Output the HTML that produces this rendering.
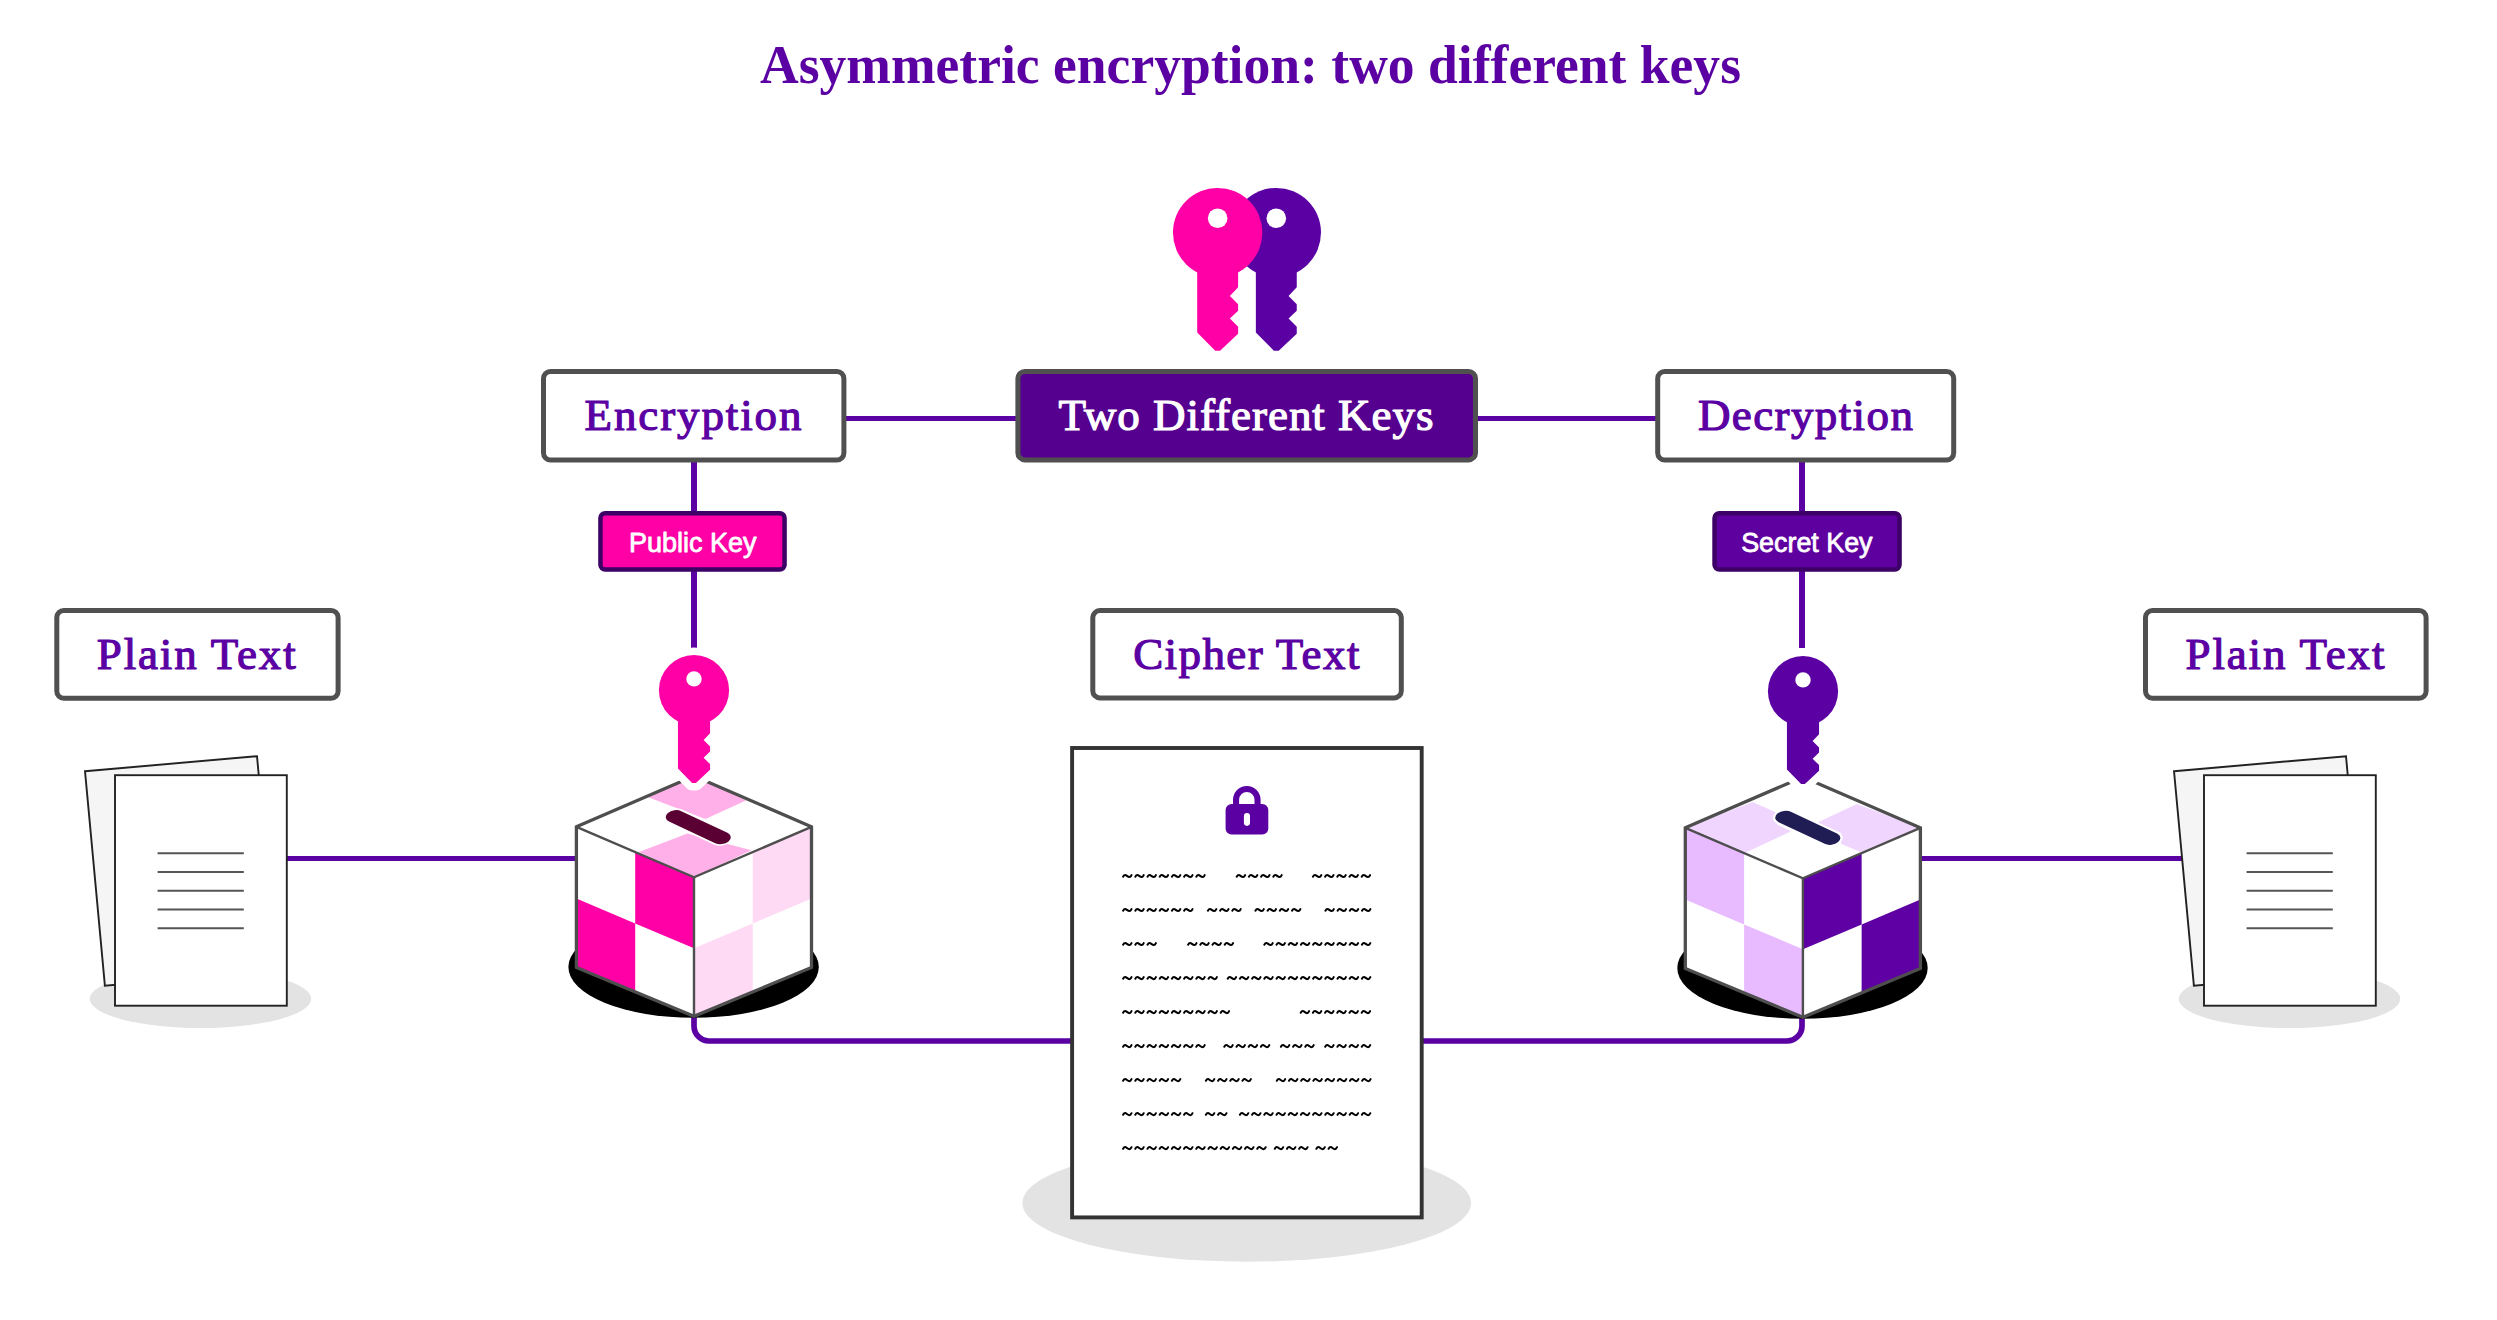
<!DOCTYPE html>
<html><head><meta charset="utf-8"><title>Asymmetric encryption</title>
<style>html,body{margin:0;padding:0;background:#fff;width:2497px;height:1320px;overflow:hidden}svg{display:block}</style>
</head><body>
<svg width="2497" height="1320" viewBox="0 0 2497 1320"><text x="760.0" y="83.3" font-family="Liberation Serif" font-size="55" font-weight="bold" fill="#5b00a3" textLength="981" lengthAdjust="spacingAndGlyphs">Asymmetric encryption: two different keys</text>
<g transform="translate(1276.3 232.6) scale(44.7)"><g fill="#5b00a3"><circle cx="0" cy="0" r="1"/><path d="M-0.4575 0.5 L0.4575 0.5 L0.4575 1.224 L0.274 1.418 L0.4575 1.601 L0.4575 1.747 L0.274 1.921 L0.4575 2.105 L0.4575 2.263 L0.054 2.642 L-0.054 2.642 L-0.4575 2.233 Z"/></g><circle cx="0" cy="-0.322" r="0.219" fill="#fff"/></g>
<g transform="translate(1217.65 232.6) scale(44.7)"><g fill="#ff00a6"><circle cx="0" cy="0" r="1"/><path d="M-0.4575 0.5 L0.4575 0.5 L0.4575 1.224 L0.274 1.418 L0.4575 1.601 L0.4575 1.747 L0.274 1.921 L0.4575 2.105 L0.4575 2.263 L0.054 2.642 L-0.054 2.642 L-0.4575 2.233 Z"/></g><circle cx="0" cy="-0.322" r="0.219" fill="#fff"/></g>
<line x1="846" y1="418.5" x2="1016" y2="418.5" stroke="#5b00a3" stroke-width="5.2"/>
<line x1="1477" y1="418.5" x2="1656" y2="418.5" stroke="#5b00a3" stroke-width="5.2"/>
<line x1="694" y1="461" x2="694" y2="512" stroke="#5b00a3" stroke-width="6"/>
<line x1="694" y1="571" x2="694" y2="648" stroke="#5b00a3" stroke-width="6"/>
<line x1="1802" y1="461" x2="1802" y2="512" stroke="#5b00a3" stroke-width="6"/>
<line x1="1802" y1="571" x2="1802" y2="648" stroke="#5b00a3" stroke-width="6"/>
<line x1="286" y1="858.5" x2="577" y2="858.5" stroke="#5b00a3" stroke-width="5.2"/>
<line x1="1920" y1="858.5" x2="2182" y2="858.5" stroke="#5b00a3" stroke-width="5.2"/>
<path d="M694 1015 L694 1026 A15 15 0 0 0 709 1041 L1072 1041" fill="none" stroke="#5b00a3" stroke-width="5.7"/>
<path d="M1802 1015 L1802 1026 A15 15 0 0 1 1787 1041 L1422 1041" fill="none" stroke="#5b00a3" stroke-width="5.7"/>
<rect x="543.5" y="371.5" width="300.4" height="88.5" rx="7.0" fill="#fff" stroke="#505050" stroke-width="5"/>
<text x="584.6" y="430.3" font-family="Liberation Serif" font-size="45" font-weight="normal" fill="#5b00a3" stroke="#5b00a3" stroke-width="1.2" stroke-linejoin="round" textLength="216.8" lengthAdjust="spacing">Encryption</text>
<rect x="1017.9" y="371.5" width="457.6" height="88.39999999999998" rx="7.0" fill="#560090" stroke="#505050" stroke-width="5"/>
<text x="1058.6" y="430.3" font-family="Liberation Serif" font-size="45" font-weight="normal" fill="#fff" stroke="#fff" stroke-width="1.2" stroke-linejoin="round" textLength="374.8" lengthAdjust="spacing">Two Different Keys</text>
<rect x="1657.7" y="371.5" width="296.0" height="88.5" rx="7.0" fill="#fff" stroke="#505050" stroke-width="5"/>
<text x="1697.8999999999999" y="430.3" font-family="Liberation Serif" font-size="45" font-weight="normal" fill="#5b00a3" stroke="#5b00a3" stroke-width="1.2" stroke-linejoin="round" textLength="215.00000000000006" lengthAdjust="spacing">Decryption</text>
<rect x="56.8" y="610.5" width="281.3" height="87.79999999999995" rx="7.0" fill="#fff" stroke="#505050" stroke-width="5"/>
<text x="96.8" y="669" font-family="Liberation Serif" font-size="45" font-weight="normal" fill="#5b00a3" stroke="#5b00a3" stroke-width="1.2" stroke-linejoin="round" textLength="198.90000000000003" lengthAdjust="spacing">Plain Text</text>
<rect x="1092.8" y="610.6" width="308.5" height="87.29999999999995" rx="7.0" fill="#fff" stroke="#505050" stroke-width="5"/>
<text x="1133.1999999999998" y="668.7" font-family="Liberation Serif" font-size="45" font-weight="normal" fill="#5b00a3" stroke="#5b00a3" stroke-width="1.2" stroke-linejoin="round" textLength="226.2000000000001" lengthAdjust="spacing">Cipher Text</text>
<rect x="2145.5" y="610.5" width="280.5999999999999" height="87.79999999999995" rx="7.0" fill="#fff" stroke="#505050" stroke-width="5"/>
<text x="2185.6" y="669" font-family="Liberation Serif" font-size="45" font-weight="normal" fill="#5b00a3" stroke="#5b00a3" stroke-width="1.2" stroke-linejoin="round" textLength="198.8" lengthAdjust="spacing">Plain Text</text>
<rect x="600.45" y="513.25" width="184.0999999999999" height="56.299999999999955" rx="4.75" fill="#ff00a6" stroke="#3c0066" stroke-width="4.5"/>
<text x="628.9" y="551.7" font-family="Liberation Sans" font-size="28" font-weight="normal" fill="#fff" stroke="#fff" stroke-width="0.8" stroke-linejoin="round" textLength="127.7" lengthAdjust="spacingAndGlyphs">Public Key</text>
<rect x="1714.55" y="513.25" width="185.0" height="56.299999999999955" rx="4.75" fill="#5e00a0" stroke="#3c0066" stroke-width="4.5"/>
<text x="1741.2" y="551.7" font-family="Liberation Sans" font-size="28" font-weight="normal" fill="#fff" stroke="#fff" stroke-width="0.8" stroke-linejoin="round" textLength="131.30000000000013" lengthAdjust="spacingAndGlyphs">Secret Key</text>
<g transform="translate(0 0)"><ellipse cx="200.5" cy="998.8" rx="110.7" ry="29.2" fill="#e3e3e3"/><polygon points="85,771.2 257,756.2 276.8,971 104.9,985.6" fill="#f5f5f5" stroke="#222" stroke-width="1.9"/><rect x="115" y="775.2" width="171.8" height="230.5" fill="#fff" stroke="#222" stroke-width="1.9"/><line x1="157.6" y1="853.2" x2="243.8" y2="853.2" stroke="#555" stroke-width="1.9"/><line x1="157.6" y1="871.95" x2="243.8" y2="871.95" stroke="#555" stroke-width="1.9"/><line x1="157.6" y1="890.7" x2="243.8" y2="890.7" stroke="#555" stroke-width="1.9"/><line x1="157.6" y1="909.45" x2="243.8" y2="909.45" stroke="#555" stroke-width="1.9"/><line x1="157.6" y1="928.2" x2="243.8" y2="928.2" stroke="#555" stroke-width="1.9"/></g>
<g transform="translate(2089 0)"><ellipse cx="200.5" cy="998.8" rx="110.7" ry="29.2" fill="#e3e3e3"/><polygon points="85,771.2 257,756.2 276.8,971 104.9,985.6" fill="#f5f5f5" stroke="#222" stroke-width="1.9"/><rect x="115" y="775.2" width="171.8" height="230.5" fill="#fff" stroke="#222" stroke-width="1.9"/><line x1="157.6" y1="853.2" x2="243.8" y2="853.2" stroke="#555" stroke-width="1.9"/><line x1="157.6" y1="871.95" x2="243.8" y2="871.95" stroke="#555" stroke-width="1.9"/><line x1="157.6" y1="890.7" x2="243.8" y2="890.7" stroke="#555" stroke-width="1.9"/><line x1="157.6" y1="909.45" x2="243.8" y2="909.45" stroke="#555" stroke-width="1.9"/><line x1="157.6" y1="928.2" x2="243.8" y2="928.2" stroke="#555" stroke-width="1.9"/></g>
<ellipse cx="1246.7" cy="1203" rx="224.3" ry="58.7" fill="#e3e3e3"/>
<rect x="1072.1" y="748" width="349.6" height="469.4" fill="#fff" stroke="#333" stroke-width="3.9"/>
<path d="M1236.05 805 V799.7 A10.75 10.75 0 0 1 1257.55 799.7 V805" fill="none" stroke="#5b00a3" stroke-width="6.1"/>
<rect x="1225.6" y="803.9" width="42.7" height="30.7" rx="6" fill="#5b00a3"/>
<rect x="1243.9" y="812.9" width="6.1" height="13" rx="3.05" fill="#fff"/>
<path d="M1123.10 876.70 c0.7 -1.4 1.4 -1.8 2.1 -1.8 c1.2 0 2.5 2.2 4.2 2.2 c0.9 0 1.5 -0.6 2.1 -2 M1135.30 876.70 c0.7 -1.4 1.4 -1.8 2.1 -1.8 c1.2 0 2.5 2.2 4.2 2.2 c0.9 0 1.5 -0.6 2.1 -2 M1147.50 876.70 c0.7 -1.4 1.4 -1.8 2.1 -1.8 c1.2 0 2.5 2.2 4.2 2.2 c0.9 0 1.5 -0.6 2.1 -2 M1159.70 876.70 c0.7 -1.4 1.4 -1.8 2.1 -1.8 c1.2 0 2.5 2.2 4.2 2.2 c0.9 0 1.5 -0.6 2.1 -2 M1171.90 876.70 c0.7 -1.4 1.4 -1.8 2.1 -1.8 c1.2 0 2.5 2.2 4.2 2.2 c0.9 0 1.5 -0.6 2.1 -2 M1184.10 876.70 c0.7 -1.4 1.4 -1.8 2.1 -1.8 c1.2 0 2.5 2.2 4.2 2.2 c0.9 0 1.5 -0.6 2.1 -2 M1196.30 876.70 c0.7 -1.4 1.4 -1.8 2.1 -1.8 c1.2 0 2.5 2.2 4.2 2.2 c0.9 0 1.5 -0.6 2.1 -2 M1236.70 876.70 c0.7 -1.4 1.4 -1.8 2.1 -1.8 c1.2 0 2.5 2.2 4.2 2.2 c0.9 0 1.5 -0.6 2.1 -2 M1248.90 876.70 c0.7 -1.4 1.4 -1.8 2.1 -1.8 c1.2 0 2.5 2.2 4.2 2.2 c0.9 0 1.5 -0.6 2.1 -2 M1261.10 876.70 c0.7 -1.4 1.4 -1.8 2.1 -1.8 c1.2 0 2.5 2.2 4.2 2.2 c0.9 0 1.5 -0.6 2.1 -2 M1273.30 876.70 c0.7 -1.4 1.4 -1.8 2.1 -1.8 c1.2 0 2.5 2.2 4.2 2.2 c0.9 0 1.5 -0.6 2.1 -2 M1312.90 876.70 c0.7 -1.4 1.4 -1.8 2.1 -1.8 c1.2 0 2.5 2.2 4.2 2.2 c0.9 0 1.5 -0.6 2.1 -2 M1325.10 876.70 c0.7 -1.4 1.4 -1.8 2.1 -1.8 c1.2 0 2.5 2.2 4.2 2.2 c0.9 0 1.5 -0.6 2.1 -2 M1337.30 876.70 c0.7 -1.4 1.4 -1.8 2.1 -1.8 c1.2 0 2.5 2.2 4.2 2.2 c0.9 0 1.5 -0.6 2.1 -2 M1349.50 876.70 c0.7 -1.4 1.4 -1.8 2.1 -1.8 c1.2 0 2.5 2.2 4.2 2.2 c0.9 0 1.5 -0.6 2.1 -2 M1361.70 876.70 c0.7 -1.4 1.4 -1.8 2.1 -1.8 c1.2 0 2.5 2.2 4.2 2.2 c0.9 0 1.5 -0.6 2.1 -2 M1123.10 910.71 c0.7 -1.4 1.4 -1.8 2.1 -1.8 c1.2 0 2.5 2.2 4.2 2.2 c0.9 0 1.5 -0.6 2.1 -2 M1135.30 910.71 c0.7 -1.4 1.4 -1.8 2.1 -1.8 c1.2 0 2.5 2.2 4.2 2.2 c0.9 0 1.5 -0.6 2.1 -2 M1147.50 910.71 c0.7 -1.4 1.4 -1.8 2.1 -1.8 c1.2 0 2.5 2.2 4.2 2.2 c0.9 0 1.5 -0.6 2.1 -2 M1159.70 910.71 c0.7 -1.4 1.4 -1.8 2.1 -1.8 c1.2 0 2.5 2.2 4.2 2.2 c0.9 0 1.5 -0.6 2.1 -2 M1171.90 910.71 c0.7 -1.4 1.4 -1.8 2.1 -1.8 c1.2 0 2.5 2.2 4.2 2.2 c0.9 0 1.5 -0.6 2.1 -2 M1184.10 910.71 c0.7 -1.4 1.4 -1.8 2.1 -1.8 c1.2 0 2.5 2.2 4.2 2.2 c0.9 0 1.5 -0.6 2.1 -2 M1207.90 910.71 c0.7 -1.4 1.4 -1.8 2.1 -1.8 c1.2 0 2.5 2.2 4.2 2.2 c0.9 0 1.5 -0.6 2.1 -2 M1220.10 910.71 c0.7 -1.4 1.4 -1.8 2.1 -1.8 c1.2 0 2.5 2.2 4.2 2.2 c0.9 0 1.5 -0.6 2.1 -2 M1232.30 910.71 c0.7 -1.4 1.4 -1.8 2.1 -1.8 c1.2 0 2.5 2.2 4.2 2.2 c0.9 0 1.5 -0.6 2.1 -2 M1255.40 910.71 c0.7 -1.4 1.4 -1.8 2.1 -1.8 c1.2 0 2.5 2.2 4.2 2.2 c0.9 0 1.5 -0.6 2.1 -2 M1267.60 910.71 c0.7 -1.4 1.4 -1.8 2.1 -1.8 c1.2 0 2.5 2.2 4.2 2.2 c0.9 0 1.5 -0.6 2.1 -2 M1279.80 910.71 c0.7 -1.4 1.4 -1.8 2.1 -1.8 c1.2 0 2.5 2.2 4.2 2.2 c0.9 0 1.5 -0.6 2.1 -2 M1292.00 910.71 c0.7 -1.4 1.4 -1.8 2.1 -1.8 c1.2 0 2.5 2.2 4.2 2.2 c0.9 0 1.5 -0.6 2.1 -2 M1325.40 910.71 c0.7 -1.4 1.4 -1.8 2.1 -1.8 c1.2 0 2.5 2.2 4.2 2.2 c0.9 0 1.5 -0.6 2.1 -2 M1337.60 910.71 c0.7 -1.4 1.4 -1.8 2.1 -1.8 c1.2 0 2.5 2.2 4.2 2.2 c0.9 0 1.5 -0.6 2.1 -2 M1349.80 910.71 c0.7 -1.4 1.4 -1.8 2.1 -1.8 c1.2 0 2.5 2.2 4.2 2.2 c0.9 0 1.5 -0.6 2.1 -2 M1362.00 910.71 c0.7 -1.4 1.4 -1.8 2.1 -1.8 c1.2 0 2.5 2.2 4.2 2.2 c0.9 0 1.5 -0.6 2.1 -2 M1123.10 944.72 c0.7 -1.4 1.4 -1.8 2.1 -1.8 c1.2 0 2.5 2.2 4.2 2.2 c0.9 0 1.5 -0.6 2.1 -2 M1135.30 944.72 c0.7 -1.4 1.4 -1.8 2.1 -1.8 c1.2 0 2.5 2.2 4.2 2.2 c0.9 0 1.5 -0.6 2.1 -2 M1147.50 944.72 c0.7 -1.4 1.4 -1.8 2.1 -1.8 c1.2 0 2.5 2.2 4.2 2.2 c0.9 0 1.5 -0.6 2.1 -2 M1188.10 944.72 c0.7 -1.4 1.4 -1.8 2.1 -1.8 c1.2 0 2.5 2.2 4.2 2.2 c0.9 0 1.5 -0.6 2.1 -2 M1200.30 944.72 c0.7 -1.4 1.4 -1.8 2.1 -1.8 c1.2 0 2.5 2.2 4.2 2.2 c0.9 0 1.5 -0.6 2.1 -2 M1212.50 944.72 c0.7 -1.4 1.4 -1.8 2.1 -1.8 c1.2 0 2.5 2.2 4.2 2.2 c0.9 0 1.5 -0.6 2.1 -2 M1224.70 944.72 c0.7 -1.4 1.4 -1.8 2.1 -1.8 c1.2 0 2.5 2.2 4.2 2.2 c0.9 0 1.5 -0.6 2.1 -2 M1264.30 944.72 c0.7 -1.4 1.4 -1.8 2.1 -1.8 c1.2 0 2.5 2.2 4.2 2.2 c0.9 0 1.5 -0.6 2.1 -2 M1276.50 944.72 c0.7 -1.4 1.4 -1.8 2.1 -1.8 c1.2 0 2.5 2.2 4.2 2.2 c0.9 0 1.5 -0.6 2.1 -2 M1288.70 944.72 c0.7 -1.4 1.4 -1.8 2.1 -1.8 c1.2 0 2.5 2.2 4.2 2.2 c0.9 0 1.5 -0.6 2.1 -2 M1300.90 944.72 c0.7 -1.4 1.4 -1.8 2.1 -1.8 c1.2 0 2.5 2.2 4.2 2.2 c0.9 0 1.5 -0.6 2.1 -2 M1313.10 944.72 c0.7 -1.4 1.4 -1.8 2.1 -1.8 c1.2 0 2.5 2.2 4.2 2.2 c0.9 0 1.5 -0.6 2.1 -2 M1325.30 944.72 c0.7 -1.4 1.4 -1.8 2.1 -1.8 c1.2 0 2.5 2.2 4.2 2.2 c0.9 0 1.5 -0.6 2.1 -2 M1337.50 944.72 c0.7 -1.4 1.4 -1.8 2.1 -1.8 c1.2 0 2.5 2.2 4.2 2.2 c0.9 0 1.5 -0.6 2.1 -2 M1349.70 944.72 c0.7 -1.4 1.4 -1.8 2.1 -1.8 c1.2 0 2.5 2.2 4.2 2.2 c0.9 0 1.5 -0.6 2.1 -2 M1361.90 944.72 c0.7 -1.4 1.4 -1.8 2.1 -1.8 c1.2 0 2.5 2.2 4.2 2.2 c0.9 0 1.5 -0.6 2.1 -2 M1123.10 978.73 c0.7 -1.4 1.4 -1.8 2.1 -1.8 c1.2 0 2.5 2.2 4.2 2.2 c0.9 0 1.5 -0.6 2.1 -2 M1135.30 978.73 c0.7 -1.4 1.4 -1.8 2.1 -1.8 c1.2 0 2.5 2.2 4.2 2.2 c0.9 0 1.5 -0.6 2.1 -2 M1147.50 978.73 c0.7 -1.4 1.4 -1.8 2.1 -1.8 c1.2 0 2.5 2.2 4.2 2.2 c0.9 0 1.5 -0.6 2.1 -2 M1159.70 978.73 c0.7 -1.4 1.4 -1.8 2.1 -1.8 c1.2 0 2.5 2.2 4.2 2.2 c0.9 0 1.5 -0.6 2.1 -2 M1171.90 978.73 c0.7 -1.4 1.4 -1.8 2.1 -1.8 c1.2 0 2.5 2.2 4.2 2.2 c0.9 0 1.5 -0.6 2.1 -2 M1184.10 978.73 c0.7 -1.4 1.4 -1.8 2.1 -1.8 c1.2 0 2.5 2.2 4.2 2.2 c0.9 0 1.5 -0.6 2.1 -2 M1196.30 978.73 c0.7 -1.4 1.4 -1.8 2.1 -1.8 c1.2 0 2.5 2.2 4.2 2.2 c0.9 0 1.5 -0.6 2.1 -2 M1208.50 978.73 c0.7 -1.4 1.4 -1.8 2.1 -1.8 c1.2 0 2.5 2.2 4.2 2.2 c0.9 0 1.5 -0.6 2.1 -2 M1227.70 978.73 c0.7 -1.4 1.4 -1.8 2.1 -1.8 c1.2 0 2.5 2.2 4.2 2.2 c0.9 0 1.5 -0.6 2.1 -2 M1239.90 978.73 c0.7 -1.4 1.4 -1.8 2.1 -1.8 c1.2 0 2.5 2.2 4.2 2.2 c0.9 0 1.5 -0.6 2.1 -2 M1252.10 978.73 c0.7 -1.4 1.4 -1.8 2.1 -1.8 c1.2 0 2.5 2.2 4.2 2.2 c0.9 0 1.5 -0.6 2.1 -2 M1264.30 978.73 c0.7 -1.4 1.4 -1.8 2.1 -1.8 c1.2 0 2.5 2.2 4.2 2.2 c0.9 0 1.5 -0.6 2.1 -2 M1276.50 978.73 c0.7 -1.4 1.4 -1.8 2.1 -1.8 c1.2 0 2.5 2.2 4.2 2.2 c0.9 0 1.5 -0.6 2.1 -2 M1288.70 978.73 c0.7 -1.4 1.4 -1.8 2.1 -1.8 c1.2 0 2.5 2.2 4.2 2.2 c0.9 0 1.5 -0.6 2.1 -2 M1300.90 978.73 c0.7 -1.4 1.4 -1.8 2.1 -1.8 c1.2 0 2.5 2.2 4.2 2.2 c0.9 0 1.5 -0.6 2.1 -2 M1313.10 978.73 c0.7 -1.4 1.4 -1.8 2.1 -1.8 c1.2 0 2.5 2.2 4.2 2.2 c0.9 0 1.5 -0.6 2.1 -2 M1325.30 978.73 c0.7 -1.4 1.4 -1.8 2.1 -1.8 c1.2 0 2.5 2.2 4.2 2.2 c0.9 0 1.5 -0.6 2.1 -2 M1337.50 978.73 c0.7 -1.4 1.4 -1.8 2.1 -1.8 c1.2 0 2.5 2.2 4.2 2.2 c0.9 0 1.5 -0.6 2.1 -2 M1349.70 978.73 c0.7 -1.4 1.4 -1.8 2.1 -1.8 c1.2 0 2.5 2.2 4.2 2.2 c0.9 0 1.5 -0.6 2.1 -2 M1361.90 978.73 c0.7 -1.4 1.4 -1.8 2.1 -1.8 c1.2 0 2.5 2.2 4.2 2.2 c0.9 0 1.5 -0.6 2.1 -2 M1123.10 1012.74 c0.7 -1.4 1.4 -1.8 2.1 -1.8 c1.2 0 2.5 2.2 4.2 2.2 c0.9 0 1.5 -0.6 2.1 -2 M1135.30 1012.74 c0.7 -1.4 1.4 -1.8 2.1 -1.8 c1.2 0 2.5 2.2 4.2 2.2 c0.9 0 1.5 -0.6 2.1 -2 M1147.50 1012.74 c0.7 -1.4 1.4 -1.8 2.1 -1.8 c1.2 0 2.5 2.2 4.2 2.2 c0.9 0 1.5 -0.6 2.1 -2 M1159.70 1012.74 c0.7 -1.4 1.4 -1.8 2.1 -1.8 c1.2 0 2.5 2.2 4.2 2.2 c0.9 0 1.5 -0.6 2.1 -2 M1171.90 1012.74 c0.7 -1.4 1.4 -1.8 2.1 -1.8 c1.2 0 2.5 2.2 4.2 2.2 c0.9 0 1.5 -0.6 2.1 -2 M1184.10 1012.74 c0.7 -1.4 1.4 -1.8 2.1 -1.8 c1.2 0 2.5 2.2 4.2 2.2 c0.9 0 1.5 -0.6 2.1 -2 M1196.30 1012.74 c0.7 -1.4 1.4 -1.8 2.1 -1.8 c1.2 0 2.5 2.2 4.2 2.2 c0.9 0 1.5 -0.6 2.1 -2 M1208.50 1012.74 c0.7 -1.4 1.4 -1.8 2.1 -1.8 c1.2 0 2.5 2.2 4.2 2.2 c0.9 0 1.5 -0.6 2.1 -2 M1220.70 1012.74 c0.7 -1.4 1.4 -1.8 2.1 -1.8 c1.2 0 2.5 2.2 4.2 2.2 c0.9 0 1.5 -0.6 2.1 -2 M1300.70 1012.74 c0.7 -1.4 1.4 -1.8 2.1 -1.8 c1.2 0 2.5 2.2 4.2 2.2 c0.9 0 1.5 -0.6 2.1 -2 M1312.90 1012.74 c0.7 -1.4 1.4 -1.8 2.1 -1.8 c1.2 0 2.5 2.2 4.2 2.2 c0.9 0 1.5 -0.6 2.1 -2 M1325.10 1012.74 c0.7 -1.4 1.4 -1.8 2.1 -1.8 c1.2 0 2.5 2.2 4.2 2.2 c0.9 0 1.5 -0.6 2.1 -2 M1337.30 1012.74 c0.7 -1.4 1.4 -1.8 2.1 -1.8 c1.2 0 2.5 2.2 4.2 2.2 c0.9 0 1.5 -0.6 2.1 -2 M1349.50 1012.74 c0.7 -1.4 1.4 -1.8 2.1 -1.8 c1.2 0 2.5 2.2 4.2 2.2 c0.9 0 1.5 -0.6 2.1 -2 M1361.70 1012.74 c0.7 -1.4 1.4 -1.8 2.1 -1.8 c1.2 0 2.5 2.2 4.2 2.2 c0.9 0 1.5 -0.6 2.1 -2 M1123.10 1046.75 c0.7 -1.4 1.4 -1.8 2.1 -1.8 c1.2 0 2.5 2.2 4.2 2.2 c0.9 0 1.5 -0.6 2.1 -2 M1135.30 1046.75 c0.7 -1.4 1.4 -1.8 2.1 -1.8 c1.2 0 2.5 2.2 4.2 2.2 c0.9 0 1.5 -0.6 2.1 -2 M1147.50 1046.75 c0.7 -1.4 1.4 -1.8 2.1 -1.8 c1.2 0 2.5 2.2 4.2 2.2 c0.9 0 1.5 -0.6 2.1 -2 M1159.70 1046.75 c0.7 -1.4 1.4 -1.8 2.1 -1.8 c1.2 0 2.5 2.2 4.2 2.2 c0.9 0 1.5 -0.6 2.1 -2 M1171.90 1046.75 c0.7 -1.4 1.4 -1.8 2.1 -1.8 c1.2 0 2.5 2.2 4.2 2.2 c0.9 0 1.5 -0.6 2.1 -2 M1184.10 1046.75 c0.7 -1.4 1.4 -1.8 2.1 -1.8 c1.2 0 2.5 2.2 4.2 2.2 c0.9 0 1.5 -0.6 2.1 -2 M1196.30 1046.75 c0.7 -1.4 1.4 -1.8 2.1 -1.8 c1.2 0 2.5 2.2 4.2 2.2 c0.9 0 1.5 -0.6 2.1 -2 M1224.30 1046.75 c0.7 -1.4 1.4 -1.8 2.1 -1.8 c1.2 0 2.5 2.2 4.2 2.2 c0.9 0 1.5 -0.6 2.1 -2 M1236.50 1046.75 c0.7 -1.4 1.4 -1.8 2.1 -1.8 c1.2 0 2.5 2.2 4.2 2.2 c0.9 0 1.5 -0.6 2.1 -2 M1248.70 1046.75 c0.7 -1.4 1.4 -1.8 2.1 -1.8 c1.2 0 2.5 2.2 4.2 2.2 c0.9 0 1.5 -0.6 2.1 -2 M1260.90 1046.75 c0.7 -1.4 1.4 -1.8 2.1 -1.8 c1.2 0 2.5 2.2 4.2 2.2 c0.9 0 1.5 -0.6 2.1 -2 M1280.90 1046.75 c0.7 -1.4 1.4 -1.8 2.1 -1.8 c1.2 0 2.5 2.2 4.2 2.2 c0.9 0 1.5 -0.6 2.1 -2 M1293.10 1046.75 c0.7 -1.4 1.4 -1.8 2.1 -1.8 c1.2 0 2.5 2.2 4.2 2.2 c0.9 0 1.5 -0.6 2.1 -2 M1305.30 1046.75 c0.7 -1.4 1.4 -1.8 2.1 -1.8 c1.2 0 2.5 2.2 4.2 2.2 c0.9 0 1.5 -0.6 2.1 -2 M1325.20 1046.75 c0.7 -1.4 1.4 -1.8 2.1 -1.8 c1.2 0 2.5 2.2 4.2 2.2 c0.9 0 1.5 -0.6 2.1 -2 M1337.40 1046.75 c0.7 -1.4 1.4 -1.8 2.1 -1.8 c1.2 0 2.5 2.2 4.2 2.2 c0.9 0 1.5 -0.6 2.1 -2 M1349.60 1046.75 c0.7 -1.4 1.4 -1.8 2.1 -1.8 c1.2 0 2.5 2.2 4.2 2.2 c0.9 0 1.5 -0.6 2.1 -2 M1361.80 1046.75 c0.7 -1.4 1.4 -1.8 2.1 -1.8 c1.2 0 2.5 2.2 4.2 2.2 c0.9 0 1.5 -0.6 2.1 -2 M1123.10 1080.76 c0.7 -1.4 1.4 -1.8 2.1 -1.8 c1.2 0 2.5 2.2 4.2 2.2 c0.9 0 1.5 -0.6 2.1 -2 M1135.30 1080.76 c0.7 -1.4 1.4 -1.8 2.1 -1.8 c1.2 0 2.5 2.2 4.2 2.2 c0.9 0 1.5 -0.6 2.1 -2 M1147.50 1080.76 c0.7 -1.4 1.4 -1.8 2.1 -1.8 c1.2 0 2.5 2.2 4.2 2.2 c0.9 0 1.5 -0.6 2.1 -2 M1159.70 1080.76 c0.7 -1.4 1.4 -1.8 2.1 -1.8 c1.2 0 2.5 2.2 4.2 2.2 c0.9 0 1.5 -0.6 2.1 -2 M1171.90 1080.76 c0.7 -1.4 1.4 -1.8 2.1 -1.8 c1.2 0 2.5 2.2 4.2 2.2 c0.9 0 1.5 -0.6 2.1 -2 M1205.90 1080.76 c0.7 -1.4 1.4 -1.8 2.1 -1.8 c1.2 0 2.5 2.2 4.2 2.2 c0.9 0 1.5 -0.6 2.1 -2 M1218.10 1080.76 c0.7 -1.4 1.4 -1.8 2.1 -1.8 c1.2 0 2.5 2.2 4.2 2.2 c0.9 0 1.5 -0.6 2.1 -2 M1230.30 1080.76 c0.7 -1.4 1.4 -1.8 2.1 -1.8 c1.2 0 2.5 2.2 4.2 2.2 c0.9 0 1.5 -0.6 2.1 -2 M1242.50 1080.76 c0.7 -1.4 1.4 -1.8 2.1 -1.8 c1.2 0 2.5 2.2 4.2 2.2 c0.9 0 1.5 -0.6 2.1 -2 M1276.80 1080.76 c0.7 -1.4 1.4 -1.8 2.1 -1.8 c1.2 0 2.5 2.2 4.2 2.2 c0.9 0 1.5 -0.6 2.1 -2 M1289.00 1080.76 c0.7 -1.4 1.4 -1.8 2.1 -1.8 c1.2 0 2.5 2.2 4.2 2.2 c0.9 0 1.5 -0.6 2.1 -2 M1301.20 1080.76 c0.7 -1.4 1.4 -1.8 2.1 -1.8 c1.2 0 2.5 2.2 4.2 2.2 c0.9 0 1.5 -0.6 2.1 -2 M1313.40 1080.76 c0.7 -1.4 1.4 -1.8 2.1 -1.8 c1.2 0 2.5 2.2 4.2 2.2 c0.9 0 1.5 -0.6 2.1 -2 M1325.60 1080.76 c0.7 -1.4 1.4 -1.8 2.1 -1.8 c1.2 0 2.5 2.2 4.2 2.2 c0.9 0 1.5 -0.6 2.1 -2 M1337.80 1080.76 c0.7 -1.4 1.4 -1.8 2.1 -1.8 c1.2 0 2.5 2.2 4.2 2.2 c0.9 0 1.5 -0.6 2.1 -2 M1350.00 1080.76 c0.7 -1.4 1.4 -1.8 2.1 -1.8 c1.2 0 2.5 2.2 4.2 2.2 c0.9 0 1.5 -0.6 2.1 -2 M1362.20 1080.76 c0.7 -1.4 1.4 -1.8 2.1 -1.8 c1.2 0 2.5 2.2 4.2 2.2 c0.9 0 1.5 -0.6 2.1 -2 M1123.10 1114.77 c0.7 -1.4 1.4 -1.8 2.1 -1.8 c1.2 0 2.5 2.2 4.2 2.2 c0.9 0 1.5 -0.6 2.1 -2 M1135.30 1114.77 c0.7 -1.4 1.4 -1.8 2.1 -1.8 c1.2 0 2.5 2.2 4.2 2.2 c0.9 0 1.5 -0.6 2.1 -2 M1147.50 1114.77 c0.7 -1.4 1.4 -1.8 2.1 -1.8 c1.2 0 2.5 2.2 4.2 2.2 c0.9 0 1.5 -0.6 2.1 -2 M1159.70 1114.77 c0.7 -1.4 1.4 -1.8 2.1 -1.8 c1.2 0 2.5 2.2 4.2 2.2 c0.9 0 1.5 -0.6 2.1 -2 M1171.90 1114.77 c0.7 -1.4 1.4 -1.8 2.1 -1.8 c1.2 0 2.5 2.2 4.2 2.2 c0.9 0 1.5 -0.6 2.1 -2 M1184.10 1114.77 c0.7 -1.4 1.4 -1.8 2.1 -1.8 c1.2 0 2.5 2.2 4.2 2.2 c0.9 0 1.5 -0.6 2.1 -2 M1205.90 1114.77 c0.7 -1.4 1.4 -1.8 2.1 -1.8 c1.2 0 2.5 2.2 4.2 2.2 c0.9 0 1.5 -0.6 2.1 -2 M1218.10 1114.77 c0.7 -1.4 1.4 -1.8 2.1 -1.8 c1.2 0 2.5 2.2 4.2 2.2 c0.9 0 1.5 -0.6 2.1 -2 M1239.90 1114.77 c0.7 -1.4 1.4 -1.8 2.1 -1.8 c1.2 0 2.5 2.2 4.2 2.2 c0.9 0 1.5 -0.6 2.1 -2 M1252.10 1114.77 c0.7 -1.4 1.4 -1.8 2.1 -1.8 c1.2 0 2.5 2.2 4.2 2.2 c0.9 0 1.5 -0.6 2.1 -2 M1264.30 1114.77 c0.7 -1.4 1.4 -1.8 2.1 -1.8 c1.2 0 2.5 2.2 4.2 2.2 c0.9 0 1.5 -0.6 2.1 -2 M1276.50 1114.77 c0.7 -1.4 1.4 -1.8 2.1 -1.8 c1.2 0 2.5 2.2 4.2 2.2 c0.9 0 1.5 -0.6 2.1 -2 M1288.70 1114.77 c0.7 -1.4 1.4 -1.8 2.1 -1.8 c1.2 0 2.5 2.2 4.2 2.2 c0.9 0 1.5 -0.6 2.1 -2 M1300.90 1114.77 c0.7 -1.4 1.4 -1.8 2.1 -1.8 c1.2 0 2.5 2.2 4.2 2.2 c0.9 0 1.5 -0.6 2.1 -2 M1313.10 1114.77 c0.7 -1.4 1.4 -1.8 2.1 -1.8 c1.2 0 2.5 2.2 4.2 2.2 c0.9 0 1.5 -0.6 2.1 -2 M1325.30 1114.77 c0.7 -1.4 1.4 -1.8 2.1 -1.8 c1.2 0 2.5 2.2 4.2 2.2 c0.9 0 1.5 -0.6 2.1 -2 M1337.50 1114.77 c0.7 -1.4 1.4 -1.8 2.1 -1.8 c1.2 0 2.5 2.2 4.2 2.2 c0.9 0 1.5 -0.6 2.1 -2 M1349.70 1114.77 c0.7 -1.4 1.4 -1.8 2.1 -1.8 c1.2 0 2.5 2.2 4.2 2.2 c0.9 0 1.5 -0.6 2.1 -2 M1361.90 1114.77 c0.7 -1.4 1.4 -1.8 2.1 -1.8 c1.2 0 2.5 2.2 4.2 2.2 c0.9 0 1.5 -0.6 2.1 -2 M1123.10 1148.78 c0.7 -1.4 1.4 -1.8 2.1 -1.8 c1.2 0 2.5 2.2 4.2 2.2 c0.9 0 1.5 -0.6 2.1 -2 M1135.30 1148.78 c0.7 -1.4 1.4 -1.8 2.1 -1.8 c1.2 0 2.5 2.2 4.2 2.2 c0.9 0 1.5 -0.6 2.1 -2 M1147.50 1148.78 c0.7 -1.4 1.4 -1.8 2.1 -1.8 c1.2 0 2.5 2.2 4.2 2.2 c0.9 0 1.5 -0.6 2.1 -2 M1159.70 1148.78 c0.7 -1.4 1.4 -1.8 2.1 -1.8 c1.2 0 2.5 2.2 4.2 2.2 c0.9 0 1.5 -0.6 2.1 -2 M1171.90 1148.78 c0.7 -1.4 1.4 -1.8 2.1 -1.8 c1.2 0 2.5 2.2 4.2 2.2 c0.9 0 1.5 -0.6 2.1 -2 M1184.10 1148.78 c0.7 -1.4 1.4 -1.8 2.1 -1.8 c1.2 0 2.5 2.2 4.2 2.2 c0.9 0 1.5 -0.6 2.1 -2 M1196.30 1148.78 c0.7 -1.4 1.4 -1.8 2.1 -1.8 c1.2 0 2.5 2.2 4.2 2.2 c0.9 0 1.5 -0.6 2.1 -2 M1208.50 1148.78 c0.7 -1.4 1.4 -1.8 2.1 -1.8 c1.2 0 2.5 2.2 4.2 2.2 c0.9 0 1.5 -0.6 2.1 -2 M1220.70 1148.78 c0.7 -1.4 1.4 -1.8 2.1 -1.8 c1.2 0 2.5 2.2 4.2 2.2 c0.9 0 1.5 -0.6 2.1 -2 M1232.90 1148.78 c0.7 -1.4 1.4 -1.8 2.1 -1.8 c1.2 0 2.5 2.2 4.2 2.2 c0.9 0 1.5 -0.6 2.1 -2 M1245.10 1148.78 c0.7 -1.4 1.4 -1.8 2.1 -1.8 c1.2 0 2.5 2.2 4.2 2.2 c0.9 0 1.5 -0.6 2.1 -2 M1257.30 1148.78 c0.7 -1.4 1.4 -1.8 2.1 -1.8 c1.2 0 2.5 2.2 4.2 2.2 c0.9 0 1.5 -0.6 2.1 -2 M1274.80 1148.78 c0.7 -1.4 1.4 -1.8 2.1 -1.8 c1.2 0 2.5 2.2 4.2 2.2 c0.9 0 1.5 -0.6 2.1 -2 M1287.00 1148.78 c0.7 -1.4 1.4 -1.8 2.1 -1.8 c1.2 0 2.5 2.2 4.2 2.2 c0.9 0 1.5 -0.6 2.1 -2 M1299.20 1148.78 c0.7 -1.4 1.4 -1.8 2.1 -1.8 c1.2 0 2.5 2.2 4.2 2.2 c0.9 0 1.5 -0.6 2.1 -2 M1316.40 1148.78 c0.7 -1.4 1.4 -1.8 2.1 -1.8 c1.2 0 2.5 2.2 4.2 2.2 c0.9 0 1.5 -0.6 2.1 -2 M1328.60 1148.78 c0.7 -1.4 1.4 -1.8 2.1 -1.8 c1.2 0 2.5 2.2 4.2 2.2 c0.9 0 1.5 -0.6 2.1 -2" fill="none" stroke="#000" stroke-width="2.0" stroke-linecap="round"/>
<ellipse cx="693.6" cy="967" rx="125.2" ry="50.8" fill="#000"/><polygon points="576.40,826.80 694.00,877.30 694.00,1016.30 576.40,967.50" fill="#fff"/><polygon points="694.00,877.30 811.50,826.80 811.50,967.50 694.00,1016.30" fill="#fff"/><polygon points="694.00,776.00 811.50,826.80 694.00,877.30 576.40,826.80" fill="#fff"/><polygon points="635.20,852.05 694.00,877.30 694.00,948.30 635.20,923.40" fill="#ff00a6"/><polygon points="576.40,898.50 635.20,923.40 635.20,991.90 576.40,967.50" fill="#ff00a6"/><polygon points="752.75,852.05 811.50,826.80 811.50,898.50 752.75,923.40" fill="#ffdaf4"/><polygon points="694.00,948.30 752.75,923.40 752.75,991.90 694.00,1016.30" fill="#ffdaf4"/><polygon points="694.00,776.00 746.00,800.50 705.40,818.90 648.10,797.30" fill="#ffb0e8"/><polygon points="638.90,851.90 687.60,833.50 751.40,850.30 694.00,877.30" fill="#ffb0e8"/><polygon points="576.40,826.80 694.00,776.00 811.50,826.80 811.50,967.50 694.00,1016.30 576.40,967.50" fill="none" stroke="#4e4e4e" stroke-width="3.3" stroke-linejoin="miter"/><polyline points="576.40,826.80 694.00,877.30 811.50,826.80" fill="none" stroke="#4e4e4e" stroke-width="2.4"/><line x1="694" y1="877.3" x2="694" y2="1016.3" stroke="#4e4e4e" stroke-width="2.4"/>
<path d="M-25.5 -8.0 L25.5 -8.0 A8.0 8.0 0 0 1 25.5 8.0 L-25.5 8.0 A8.0 8.0 0 0 1 -25.5 -8.0 Z" transform="matrix(0.9050 0.4254 -0.7660 0.6428 698.25 827.15)" fill="#5a0033" stroke="#fff" stroke-width="4" paint-order="stroke"/>
<g transform="translate(694 690.2) scale(35.1)"><g fill="#fff" stroke="#fff" stroke-width="0.42735042735042733" stroke-linejoin="round"><circle cx="0" cy="0" r="1"/><path d="M-0.4575 0.5 L0.4575 0.5 L0.4575 1.224 L0.274 1.418 L0.4575 1.601 L0.4575 1.747 L0.274 1.921 L0.4575 2.105 L0.4575 2.263 L0.054 2.642 L-0.054 2.642 L-0.4575 2.233 Z"/></g><g fill="#ff00a6"><circle cx="0" cy="0" r="1"/><path d="M-0.4575 0.5 L0.4575 0.5 L0.4575 1.224 L0.274 1.418 L0.4575 1.601 L0.4575 1.747 L0.274 1.921 L0.4575 2.105 L0.4575 2.263 L0.054 2.642 L-0.054 2.642 L-0.4575 2.233 Z"/></g><circle cx="0" cy="-0.322" r="0.219" fill="#fff"/></g>
<ellipse cx="1802.5" cy="968.0" rx="125.2" ry="50.8" fill="#000"/><polygon points="1685.30,827.80 1802.90,878.30 1802.90,1017.30 1685.30,968.50" fill="#fff"/><polygon points="1802.90,878.30 1920.40,827.80 1920.40,968.50 1802.90,1017.30" fill="#fff"/><polygon points="1802.90,777.00 1920.40,827.80 1802.90,878.30 1685.30,827.80" fill="#fff"/><polygon points="1685.30,827.80 1744.10,853.05 1744.10,924.40 1685.30,899.50" fill="#e8baff"/><polygon points="1744.10,924.40 1802.90,949.30 1802.90,1017.30 1744.10,992.90" fill="#e8baff"/><polygon points="1802.90,878.30 1861.65,853.05 1861.65,924.40 1802.90,949.30" fill="#5e00a4"/><polygon points="1861.65,924.40 1920.40,899.50 1920.40,968.50 1861.65,992.90" fill="#5e00a4"/><polygon points="1685.30,827.80 1752.80,802.10 1775.60,812.20 1777.70,824.90 1791.00,831.30 1745.40,852.80" fill="#f0d6ff"/><polygon points="1817.50,822.40 1856.80,804.00 1920.40,827.80 1860.50,851.90 1840.90,843.70 1840.90,832.90" fill="#f0d6ff"/><polygon points="1685.30,827.80 1802.90,777.00 1920.40,827.80 1920.40,968.50 1802.90,1017.30 1685.30,968.50" fill="none" stroke="#4e4e4e" stroke-width="3.3" stroke-linejoin="miter"/><polyline points="1685.30,827.80 1802.90,878.30 1920.40,827.80" fill="none" stroke="#4e4e4e" stroke-width="2.4"/><line x1="1802.9" y1="878.3" x2="1802.9" y2="1017.3" stroke="#4e4e4e" stroke-width="2.4"/>
<path d="M-25.5 -8.0 L25.5 -8.0 A8.0 8.0 0 0 1 25.5 8.0 L-25.5 8.0 A8.0 8.0 0 0 1 -25.5 -8.0 Z" transform="matrix(0.9050 0.4254 -0.7660 0.6428 1807.8 827.85)" fill="#201d55" stroke="#fff" stroke-width="4" paint-order="stroke"/>
<g transform="translate(1803 691.2) scale(35.1)"><g fill="#fff" stroke="#fff" stroke-width="0.42735042735042733" stroke-linejoin="round"><circle cx="0" cy="0" r="1"/><path d="M-0.4575 0.5 L0.4575 0.5 L0.4575 1.224 L0.274 1.418 L0.4575 1.601 L0.4575 1.747 L0.274 1.921 L0.4575 2.105 L0.4575 2.263 L0.054 2.642 L-0.054 2.642 L-0.4575 2.233 Z"/></g><g fill="#5b00a3"><circle cx="0" cy="0" r="1"/><path d="M-0.4575 0.5 L0.4575 0.5 L0.4575 1.224 L0.274 1.418 L0.4575 1.601 L0.4575 1.747 L0.274 1.921 L0.4575 2.105 L0.4575 2.263 L0.054 2.642 L-0.054 2.642 L-0.4575 2.233 Z"/></g><circle cx="0" cy="-0.322" r="0.219" fill="#fff"/></g></svg>
</body></html>
